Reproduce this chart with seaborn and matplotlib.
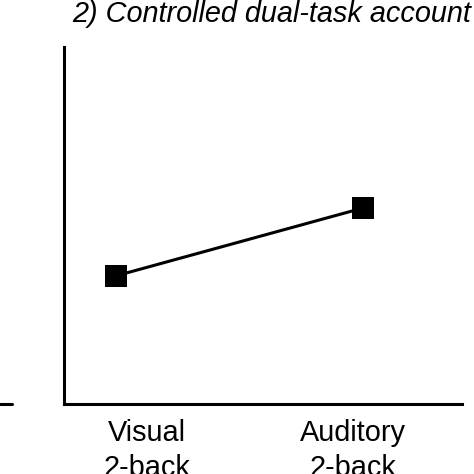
import matplotlib
matplotlib.use("Agg")
import matplotlib.pyplot as plt
import seaborn as sns
from matplotlib.lines import Line2D

conditions = ["Visual\n2-back", "Auditory\n2-back"]
positions = [0, 1]
values = [0.359, 0.549]
label_positions = [0.125, 0.96]
title = "2) Controlled dual-task account"

sns.set_theme(style="white")
plt.rcParams['font.family'] = ['Liberation Sans', 'DejaVu Sans']

fig = plt.figure(figsize=(4.74, 4.74), dpi=100)
ax = fig.add_axes([0.135, 0.1477, 0.9747 - 0.135, 0.9008 - 0.1477])

sns.lineplot(x=positions, y=values, ax=ax, color="black", linewidth=2.2,
             marker="s", markersize=16.5, markeredgewidth=0,
             markerfacecolor="black")

ax.set_xlim(-0.2105, 1.401)
ax.set_ylim(0, 1)
ax.set_xticks(label_positions)
ax.set_xticklabels(conditions, fontsize=20.8, color="black", linespacing=1.3)
ax.set_yticks([])
ax.tick_params(axis="x", length=0, pad=11)
for s in ["top", "right"]:
    ax.spines[s].set_visible(False)
for s in ["left", "bottom"]:
    ax.spines[s].set_color("black")
    ax.spines[s].set_linewidth(2.2)
ax.set_xlabel("")
ax.set_ylabel("")

fig.text(72 / 474, 1 - 22 / 474, title, fontsize=20.8, style="italic",
         ha="left", va="baseline", color="black")

fig.add_artist(Line2D([0, 12 / 474], [1 - 404 / 474, 1 - 404 / 474],
                      color="black", linewidth=2.2, transform=fig.transFigure))

fig.savefig("out.png", dpi=100)
